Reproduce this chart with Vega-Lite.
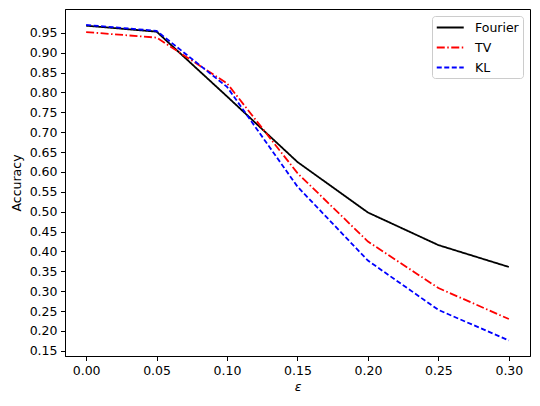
{
  "$schema": "https://vega.github.io/schema/vega-lite/v6.json",
  "width": 465,
  "height": 347,
  "autosize": {"type": "none"},
  "padding": {"left": 65, "top": 9, "right": 10, "bottom": 50},
  "background": "white",
  "config": {
    "font": "DejaVu Sans",
    "view": {"stroke": "black", "strokeWidth": 1},
    "axis": {
      "grid": false,
      "domainColor": "black",
      "tickColor": "black",
      "tickSize": 4.5,
      "labelPadding": 3.5,
      "labelFont": "DejaVu Sans",
      "labelFontSize": 12.5,
      "labelColor": "black",
      "titleFont": "DejaVu Sans",
      "titleFontSize": 12.5,
      "titleFontWeight": "normal",
      "titleColor": "black"
    }
  },
  "data": {
    "values": [
      {"eps": 0.00, "method": "Fourier", "acc": 0.968},
      {"eps": 0.05, "method": "Fourier", "acc": 0.953},
      {"eps": 0.10, "method": "Fourier", "acc": 0.790},
      {"eps": 0.15, "method": "Fourier", "acc": 0.625},
      {"eps": 0.20, "method": "Fourier", "acc": 0.498},
      {"eps": 0.25, "method": "Fourier", "acc": 0.416},
      {"eps": 0.30, "method": "Fourier", "acc": 0.361},
      {"eps": 0.00, "method": "TV", "acc": 0.952},
      {"eps": 0.05, "method": "TV", "acc": 0.938},
      {"eps": 0.10, "method": "TV", "acc": 0.823},
      {"eps": 0.15, "method": "TV", "acc": 0.597},
      {"eps": 0.20, "method": "TV", "acc": 0.425},
      {"eps": 0.25, "method": "TV", "acc": 0.308},
      {"eps": 0.30, "method": "TV", "acc": 0.230},
      {"eps": 0.00, "method": "KL", "acc": 0.970},
      {"eps": 0.05, "method": "KL", "acc": 0.955},
      {"eps": 0.10, "method": "KL", "acc": 0.814},
      {"eps": 0.15, "method": "KL", "acc": 0.563},
      {"eps": 0.20, "method": "KL", "acc": 0.377},
      {"eps": 0.25, "method": "KL", "acc": 0.253},
      {"eps": 0.30, "method": "KL", "acc": 0.176}
    ]
  },
  "mark": {"type": "line", "strokeWidth": 1.8},
  "encoding": {
    "x": {
      "field": "eps",
      "type": "quantitative",
      "scale": {"domain": [-0.015, 0.315], "nice": false, "zero": false},
      "axis": {
        "values": [0, 0.05, 0.1, 0.15, 0.2, 0.25, 0.3],
        "format": ".2f",
        "title": "ε",
        "titleFontStyle": "italic",
        "titlePadding": 4
      }
    },
    "y": {
      "field": "acc",
      "type": "quantitative",
      "scale": {"domain": [0.137, 1.010], "nice": false, "zero": false},
      "axis": {
        "values": [0.15, 0.2, 0.25, 0.3, 0.35, 0.4, 0.45, 0.5, 0.55, 0.6, 0.65, 0.7, 0.75, 0.8, 0.85, 0.9, 0.95],
        "format": ".2f",
        "title": "Accuracy",
        "titlePadding": 6
      }
    },
    "color": {
      "field": "method",
      "type": "nominal",
      "scale": {"domain": ["Fourier", "TV", "KL"], "range": ["black", "red", "blue"]},
      "legend": {
        "title": null,
        "orient": "none",
        "legendX": 367,
        "legendY": 7,
        "symbolType": "M-1,0L3,0",
        "symbolSize": 182,
        "symbolStrokeWidth": 1.8,
        "symbolFillColor": "transparent",
        "labelFontSize": 12.5,
        "labelColor": "black",
        "labelOffset": 23.5,
        "rowPadding": 5,
        "padding": 3.5,
        "strokeColor": "#cccccc",
        "fillColor": "white",
        "cornerRadius": 3
      }
    },
    "strokeDash": {
      "field": "method",
      "type": "nominal",
      "scale": {"domain": ["Fourier", "TV", "KL"], "range": [[1, 0], [8, 2.5, 1.5, 2.5], [5, 2.5]]},
      "legend": null
    }
  }
}
